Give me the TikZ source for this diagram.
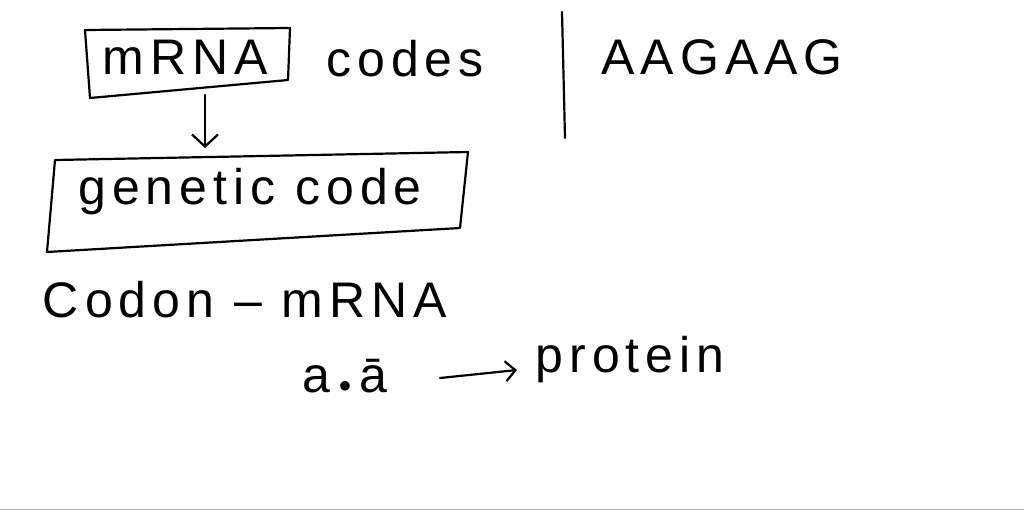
\documentclass[tikz,border=0pt]{standalone}
\usepackage{fontspec}
\usetikzlibrary{arrows.meta}
\setmainfont{Liberation Sans}[LetterSpace=12]
\begin{document}
\begin{tikzpicture}[x=1pt,y=-1pt,
  ink/.style={line width=2.2pt,black,line cap=round,line join=round},
  hw/.style={font=\fontsize{50}{54}\selectfont,inner sep=0pt}]
\useasboundingbox (0,0) rectangle (1024,512);
\fill[white] (0,0) rectangle (1024,512);
\node[hw] (mrna) at (185,57) {mRNA};
\draw[ink] (85,30) -- (290,28) -- (288,80) -- (90,98) -- cycle;
\node[hw] (codes) at (405,59) {codes};
\coordinate (vt) at (562,12);
\coordinate (vb) at (565,138);
\draw[ink] (vt) -- (vb);
\node[hw] (aag) at (722,57) {AAGAAG};
\coordinate (a1) at (205,95);
\coordinate (a2) at (205,148);
\draw[ink,->,>={Straight Barb[length=12pt,width=26pt]}] (a1) -- (a2);
\node[hw] (gc) at (250,192) {genetic code};
\draw[ink] (55,160) -- (468,152) -- (460,228) -- (47,252) -- cycle;
\node[hw] (codon) at (245,300) {Codon -- mRNA};
\node[hw] (aa) at (345,376) {a\,{\fontsize{30}{30}\selectfont$\bullet$}\,\=a};
\node[hw] (prot) at (630,360) {protein};
\coordinate (p1) at (440,378);
\coordinate (p2) at (517,370);
\draw[ink,->,>={Straight Barb[length=10pt,width=20pt]}] (p1) -- (p2);
\draw[gray!60,line width=1pt] (0,509) -- (1024,509);
\end{tikzpicture}
\end{document}
